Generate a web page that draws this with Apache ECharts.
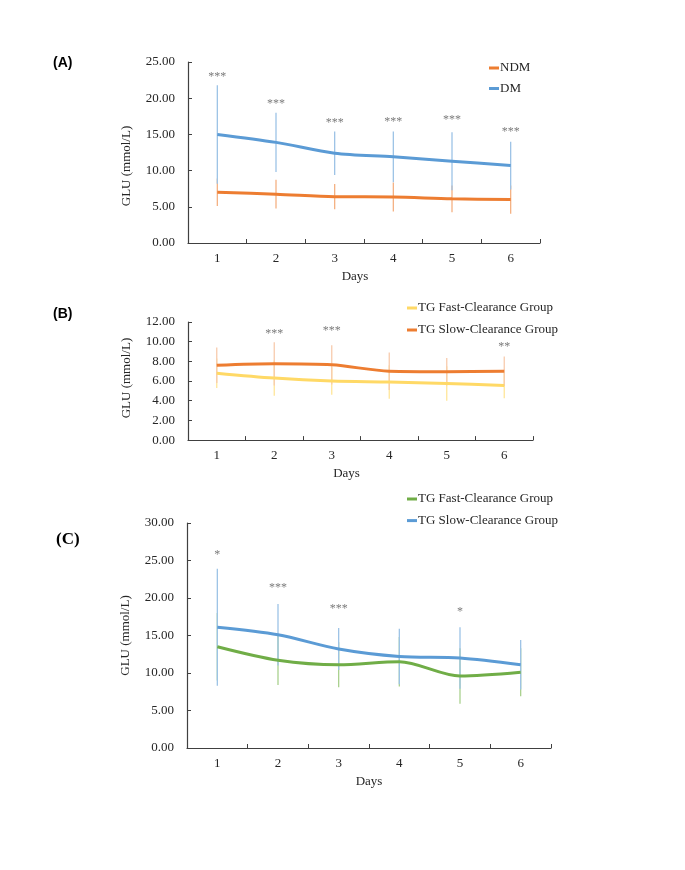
<!DOCTYPE html>
<html>
<head>
<meta charset="utf-8">
<script src="https://cdn.jsdelivr.net/npm/echarts@6/dist/echarts.min.js"></script>
<style>
  html, body { margin: 0; padding: 0; background: #fff; }
  #wrap { position: relative; width: 685px; height: 870px; background: #fff; }
  .panel { position: absolute; left: 0; width: 685px; }
</style>
</head>
<body>
<div id="wrap">
  <div id="pa" class="panel" style="top:0;height:290px"></div>
  <div id="pb" class="panel" style="top:290px;height:195px"></div>
  <div id="pc" class="panel" style="top:485px;height:385px"></div>
</div>
<script>
// ---------- data ----------
const days = ['1', '2', '3', '4', '5', '6'];

// Panel A
const ndmMean = [7.0, 6.75, 6.4, 6.35, 6.1, 6.0];
const ndmErr  = [1.9, 2.0, 1.75, 2.0, 1.85, 1.95];
const dmMean  = [15.0, 13.9, 12.4, 11.9, 11.3, 10.7];
const dmErr   = [6.8, 4.1, 3.0, 3.5, 4.0, 3.3];
const sigA    = ['***', '***', '***', '***', '***', '***'];
const sigAY   = [23.3, 19.6, 17.0, 17.2, 17.4, 15.8];

// Panel B
const bFastMean = [6.8, 6.3, 6.0, 5.9, 5.75, 5.55];
const bFastErr  = [1.5, 1.8, 1.4, 1.7, 1.75, 1.3];
const bSlowMean = [7.6, 7.75, 7.65, 7.0, 6.95, 7.0];
const bSlowErr  = [1.8, 2.2, 2.0, 1.9, 1.4, 1.5];
const sigB      = ['', '***', '***', '', '', '**'];
const sigBY     = [null, 11.1, 11.4, null, null, 9.8];

// Panel C
const cFastMean = [13.5, 11.7, 11.1, 11.5, 9.6, 10.1];
const cFastErr  = [4.5, 3.3, 3.0, 3.3, 3.7, 3.2];
const cSlowMean = [16.1, 15.1, 13.2, 12.2, 12.0, 11.1];
const cSlowErr  = [7.8, 4.1, 2.8, 3.7, 4.1, 3.3];
const sigC      = ['*', '***', '***', '', '*', ''];
const sigCY     = [26.2, 21.7, 19.0, null, 18.6, null];

const nameNDM  = 'NDM';
const nameDM   = 'DM';
const nameFast = 'TG Fast-Clearance Group';
const nameSlow = 'TG Slow-Clearance Group';

// ---------- helpers ----------
const SERIF = '"Liberation Serif", "Times New Roman", serif';
const TXT = '#262626';

function errSeries(mean, err, color) {
  return {
    type: 'custom',
    z: 1,
    silent: true,
    legendHoverLink: false,
    data: mean.map((m, i) => [i, m - err[i], m + err[i]]),
    renderItem: function (params, api) {
      const p1 = api.coord([api.value(0), api.value(1)]);
      const p2 = api.coord([api.value(0), api.value(2)]);
      return {
        type: 'line',
        shape: { x1: p1[0], y1: p1[1], x2: p2[0], y2: p2[1] },
        style: { stroke: color, lineWidth: 1.3 }
      };
    }
  };
}

function lineSeries(name, mean, color) {
  return {
    name: name,
    type: 'line',
    z: 3,
    data: mean,
    smooth: 0.3,
    symbol: 'none',
    lineStyle: { color: color, width: 3 },
    itemStyle: { color: color }
  };
}

function sigSeries(labels, ys) {
  const d = [];
  labels.forEach((l, i) => { if (l && ys[i] != null) d.push({ value: [i, ys[i]], lab: l }); });
  return {
    type: 'scatter',
    z: 4,
    silent: true,
    symbolSize: 0,
    data: d,
    label: {
      show: true,
      position: 'inside',
      offset: [0, 3],
      formatter: p => p.data.lab,
      fontFamily: SERIF,
      fontSize: 12,
      color: '#595959'
    }
  };
}

function makeOption(cfg) {
  return {
    animation: false,
    backgroundColor: '#fff',
    textStyle: { fontFamily: SERIF },
    graphic: [{
      type: 'text',
      left: cfg.labelX,
      top: cfg.labelY,
      style: { text: cfg.label, font: cfg.labelFont, fill: '#000' }
    }],
    legend: {
      orient: 'vertical',
      left: cfg.legLeft,
      top: cfg.legTop,
      itemWidth: 10,
      itemHeight: 3,
      itemGap: cfg.legGap,
      icon: 'rect',
      selectedMode: false,
      textStyle: { fontFamily: SERIF, fontSize: 13, color: TXT, padding: [0, 0, 0, -4], lineHeight: 14 },
      data: cfg.legend
    },
    grid: { left: cfg.grid[0], top: cfg.grid[1], width: cfg.grid[2], height: cfg.grid[3] },
    xAxis: {
      type: 'category',
      data: days,
      boundaryGap: true,
      name: 'Days',
      nameLocation: 'middle',
      nameGap: cfg.xNameGap,
      nameTextStyle: { fontFamily: SERIF, fontSize: 13, color: TXT, padding: cfg.xNamePad, verticalAlign: 'top' },
      axisLine: { lineStyle: { color: '#404040', width: 1.2 } },
      axisTick: { show: true, inside: true, length: 4, lineStyle: { color: '#404040' } },
      axisLabel: { fontFamily: SERIF, fontSize: 13, color: TXT, margin: 9 },
      splitLine: { show: false }
    },
    yAxis: {
      type: 'value',
      min: 0,
      max: cfg.yMax,
      interval: cfg.yStep,
      name: 'GLU (mmol/L)',
      nameLocation: 'middle',
      nameGap: cfg.yNameGap,
      nameTextStyle: { fontFamily: SERIF, fontSize: 13, color: TXT, padding: cfg.yNamePad },
      axisLine: { show: true, lineStyle: { color: '#404040', width: 1.2 } },
      axisTick: { show: true, inside: true, length: 4, lineStyle: { color: '#404040' } },
      axisLabel: { fontFamily: SERIF, fontSize: 13, color: TXT, margin: 13, formatter: v => v.toFixed(2) },
      splitLine: { show: false }
    },
    series: cfg.series
  };
}

// ---------- Panel A ----------
const chartA = echarts.init(document.getElementById('pa'), null, { renderer: 'canvas' });
chartA.setOption(makeOption({
  label: '(A)', labelX: 53, labelY: 56, labelFont: 'bold 14px "Liberation Sans", Arial, sans-serif',
  legLeft: 484, legTop: 56, legGap: 6.5,
  legend: [nameNDM, nameDM],
  grid: [188, 62, 352, 181],
  yMax: 25, yStep: 5,
  xNameGap: 25, xNamePad: [0, 18, 0, 0],
  yNameGap: 55, yNamePad: [0, 27, 0, 0],
  series: [
    errSeries(ndmMean, ndmErr, '#F4B183'),
    errSeries(dmMean, dmErr, '#9DC3E6'),
    lineSeries(nameNDM, ndmMean, '#ED7D31'),
    lineSeries(nameDM, dmMean, '#5B9BD5'),
    sigSeries(sigA, sigAY)
  ]
}));

// ---------- Panel B ----------
const chartB = echarts.init(document.getElementById('pb'), null, { renderer: 'canvas' });
chartB.setOption(makeOption({
  label: '(B)', labelX: 53, labelY: 17, labelFont: 'bold 14px "Liberation Sans", Arial, sans-serif',
  legLeft: 402, legTop: 6, legGap: 8,
  legend: [nameFast, nameSlow],
  grid: [188, 32, 345, 133],
  yMax: 12, yStep: 2,
  xNameGap: 12, xNamePad: [0, 28, 0, 0],
  yNameGap: 55, yNamePad: [0, 0, 0, 6],
  series: [
    errSeries(bFastMean, bFastErr, '#FFE699'),
    errSeries(bSlowMean, bSlowErr, '#F8CBAD'),
    lineSeries(nameFast, bFastMean, '#FFD966'),
    lineSeries(nameSlow, bSlowMean, '#ED7D31'),
    sigSeries(sigB, sigBY)
  ]
}));

// ---------- Panel C ----------
const chartC = echarts.init(document.getElementById('pc'), null, { renderer: 'canvas' });
chartC.setOption(makeOption({
  label: '(C)', labelX: 56, labelY: 46, labelFont: 'bold 17px "Liberation Serif", "Times New Roman", serif',
  legLeft: 402, legTop: 2, legGap: 7.6,
  legend: [nameFast, nameSlow],
  grid: [187, 38, 364, 225],
  yMax: 30, yStep: 5,
  xNameGap: 27, xNamePad: [0, 0, 0, 0],
  yNameGap: 55, yNamePad: [0, 0, 0, 0],
  series: [
    errSeries(cFastMean, cFastErr, '#A9D18E'),
    errSeries(cSlowMean, cSlowErr, '#9DC3E6'),
    lineSeries(nameFast, cFastMean, '#70AD47'),
    lineSeries(nameSlow, cSlowMean, '#5B9BD5'),
    sigSeries(sigC, sigCY)
  ]
}));
</script>
</body>
</html>
